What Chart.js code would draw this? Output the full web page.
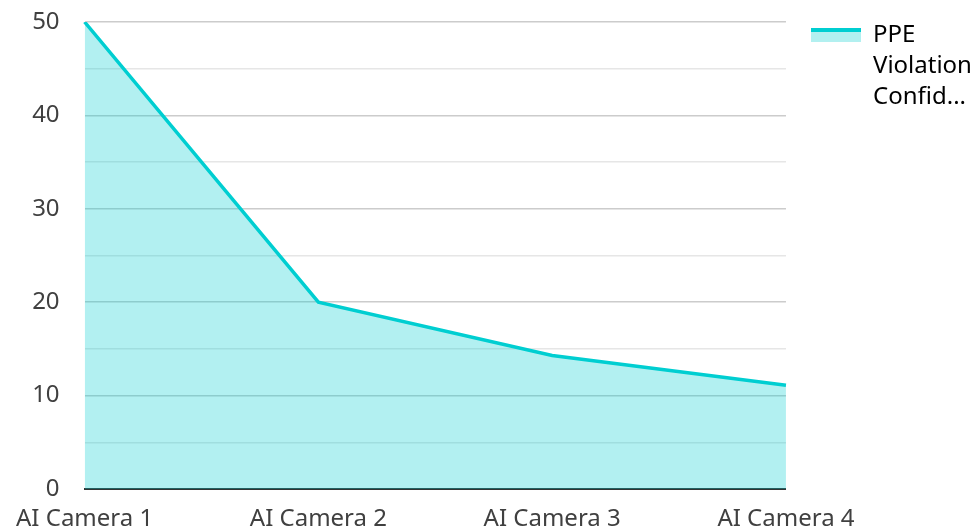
<!DOCTYPE html>
<html>
<head>
<meta charset="utf-8">
<script src="https://cdn.jsdelivr.net/npm/chart.js@4.4.0/dist/chart.umd.min.js"></script>
<style>
  html, body { margin: 0; padding: 0; background: #fff; }
  #wrap { width: 976px; height: 528px; position: relative; }
</style>
</head>
<body>
<div id="wrap"><canvas id="lineChart"></canvas></div>
<script>
const cameras = ['AI Camera 1', 'AI Camera 2', 'AI Camera 3', 'AI Camera 4']
const confidence = [50, 20, 14.3, 11.1]
const seriesLabel = ['PPE', 'Violation', 'Confid...']

const lineColor = 'rgb(0, 206, 209)'
const fillColor = 'rgba(0, 206, 209, 0.3)'

// legend sample: thick line on top, fill below
const sample = document.createElement('canvas')
sample.width = 50
sample.height = 14
const sctx = sample.getContext('2d')
sctx.fillStyle = 'rgb(178, 240, 240)'
sctx.fillRect(0, 3, 50, 11)
sctx.fillStyle = lineColor
sctx.fillRect(0, 0, 50, 4)

Chart.defaults.font.family = '"Noto Sans", sans-serif'
Chart.defaults.font.size = 24
Chart.defaults.color = '#404040'

const dataLine = {
  labels: cameras,
  datasets: [{
    label: seriesLabel,
    data: confidence,
    borderColor: lineColor,
    backgroundColor: fillColor,
    borderWidth: 3.5,
    fill: 'origin',
    tension: 0,
    pointRadius: 0
  }]
}

const configLine = {
  type: 'line',
  data: dataLine,
  options: {
    responsive: true,
    maintainAspectRatio: false,
    animation: false,
    layout: {
      padding: { top: -2, left: 3, right: 0, bottom: 0 }
    },
    plugins: {
      tooltip: { enabled: false },
      legend: {
        position: 'right',
        align: 'start',
        labels: {
          usePointStyle: true,
          pointStyleWidth: 50,
          boxWidth: 50,
          boxHeight: 14,
          padding: 25,
          font: { size: 24, lineHeight: 1.3 },
          color: '#404040',
          generateLabels: function (chart) {
            return chart.data.datasets.map(function (ds, i) {
              return {
                text: ds.label,
                pointStyle: sample,
                fillStyle: fillColor,
                strokeStyle: lineColor,
                lineWidth: 0,
                hidden: false,
                datasetIndex: i
              }
            })
          }
        }
      }
    },
    scales: {
      x: {
        offset: false,
        grid: { display: false, drawTicks: false },
        border: { display: true, color: '#333', width: 2 },
        ticks: { padding: 16, maxRotation: 0, autoSkip: false, color: '#404040' },
        afterFit: function (scale) {
          scale.height = 39
        }
      },
      y: {
        beginAtZero: true,
        min: 0,
        max: 50,
        border: { display: false },
        grid: {
          drawTicks: false,
          color: function (ctx) {
            return ctx.tick && ctx.tick.value % 10 === 0 ? '#cccccc' : '#e6e6e6'
          },
          lineWidth: 1.5
        },
        ticks: {
          stepSize: 5,
          padding: 25,
          color: '#404040',
          callback: function (v) { return v % 10 === 0 ? v : '' }
        },
        afterFit: function (scale) {
          scale.paddingTop = 22
          scale.paddingBottom = 0
        }
      }
    }
  }
}

const lineChart = new Chart(document.getElementById('lineChart'), configLine)
</script>
</body>
</html>
